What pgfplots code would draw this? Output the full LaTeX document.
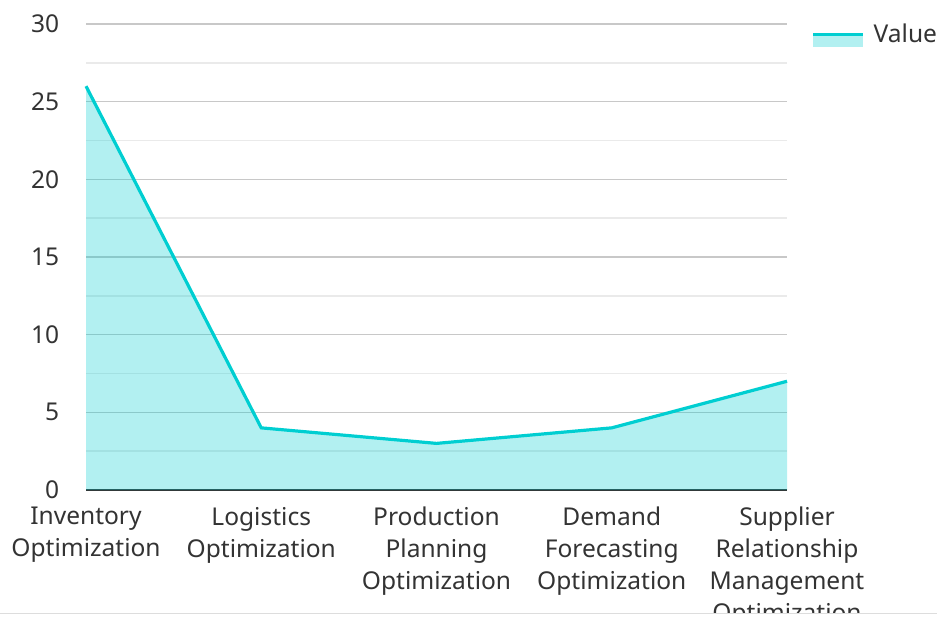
\documentclass[border=0pt]{standalone}
\usepackage{fontspec}
\setmainfont{Noto Sans}
\usepackage{pgfplots}
\pgfplotsset{compat=1.18}
\definecolor{linec}{HTML}{00CED1}
\definecolor{majgrid}{HTML}{C8C8C8}
\definecolor{mingrid}{HTML}{EAEAEA}
\definecolor{txt}{HTML}{333333}
\definecolor{botline}{HTML}{DDDDDD}
\begin{document}
\begin{tikzpicture}
\path[use as bounding box] (0,0) rectangle (702.75pt,462.75pt);
\begin{scope}
\clip (0,3.75pt) rectangle (702.75pt,462.75pt);
\begin{axis}[
  at={(64.5pt,95.25pt)}, anchor=south west,
  scale only axis, width=525.75pt, height=349.5pt,
  xmin=0, xmax=4, ymin=0, ymax=30,
  xtick={0,1,2,3,4},
  xticklabels={{Inventory\\Optimization},{Logistics\\Optimization},{Production\\Planning\\Optimization},{Demand\\Forecasting\\Optimization},{Supplier\\Relationship\\Management\\Optimization}},
  ytick={0,5,10,15,20,25,30},
  minor ytick={2.5,7.5,12.5,17.5,22.5,27.5},
  ymajorgrids, yminorgrids,
  major grid style={majgrid, line width=1.1pt},
  minor grid style={mingrid, line width=1.1pt},
  axis lines=left,
  axis line style={-},
  y axis line style={draw=none},
  x axis line style={txt, line width=1.6pt},
  major tick length=0pt, minor tick length=0pt,
  /pgf/number format/assume math mode=true,
  tick label style={font=\fontsize{18.4}{24}\selectfont, text=txt},
  xticklabel style={align=center, anchor=north, inner sep=0pt, yshift=-12.6pt},
  yticklabel style={anchor=east, inner sep=0pt, xshift=-20pt},
  clip=false,
  legend style={at={(axis description cs:1.0350,1.009)}, anchor=north west, draw=none, fill=none, inner sep=0pt,
    font=\fontsize{18.4}{24}\selectfont, text=txt, nodes={inner sep=0pt},
    /tikz/every odd column/.append style={column sep=7pt}},
  legend cell align=left,
]
\addplot[draw=none, fill=linec, fill opacity=0.3,
  legend image code/.code={
    \fill[linec, fill opacity=0.3] (0pt,0pt) rectangle (37pt,-9.5pt);
    \draw[linec, line width=2.4pt] (0pt,0pt) -- (37pt,0pt);
    \path (0pt,10.6pt);
  }] coordinates {(0,26) (1,4) (2,3) (3,4) (4,7)} \closedcycle;
\addlegendentry{Value}
\addplot[linec, line width=2.4pt, forget plot] coordinates {(0,26) (1,4) (2,3) (3,4) (4,7)};
\end{axis}
\end{scope}
\draw[botline, line width=1.1pt] (0,2.6pt) -- (702.75pt,2.6pt);
\end{tikzpicture}
\end{document}
